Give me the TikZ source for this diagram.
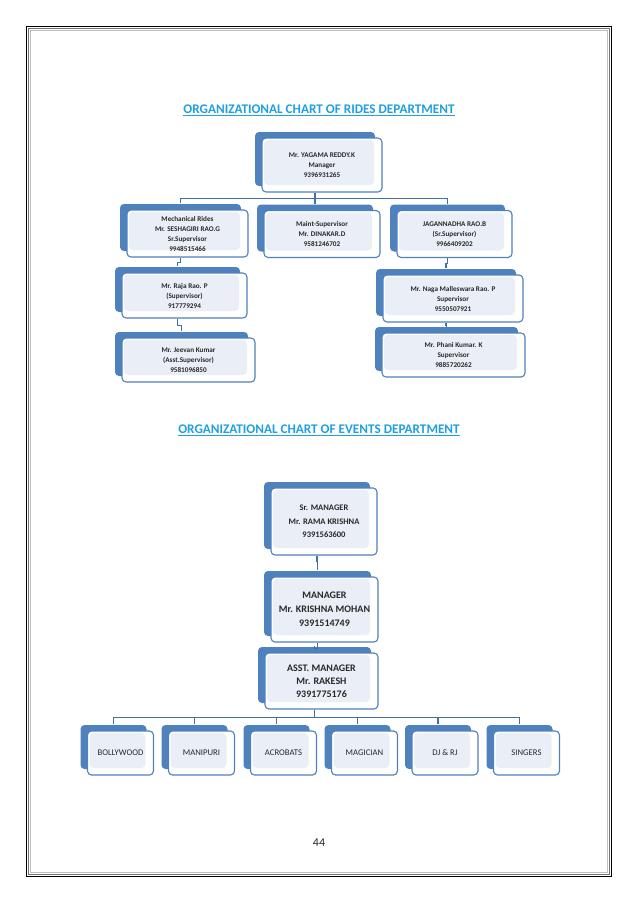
\documentclass[tikz,border=0pt]{standalone}
\usepackage{fontspec}
\setmainfont{Carlito}
\usetikzlibrary{shadows}
\definecolor{chartblue}{RGB}{79,129,189}
\definecolor{linkblue}{RGB}{65,113,160}
\definecolor{panefill}{RGB}{234,239,247}
\definecolor{titleblue}{RGB}{30,160,225}
\definecolor{inktext}{RGB}{40,40,40}

\begin{document}
\begin{tikzpicture}[x=1pt, y=-1pt,
    orgbox/.style={draw=chartblue, fill=white, line width=1.1pt, rounded corners=4pt, inner sep=0pt, align=center, text=inktext,
      font=\bfseries\fontsize{7.2}{10}\selectfont,
      general shadow={shadow xshift=-7pt, shadow yshift=6pt, fill=chartblue},
      path picture={\fill[panefill] ([xshift=2pt,yshift=-2pt]path picture bounding box.north west) rectangle ([xshift=-8pt,yshift=7pt]path picture bounding box.south east);}},
    leafbox/.style={orgbox, font=\fontsize{8.7}{10}\selectfont, minimum width=66pt, minimum height=44pt},
    link/.style={draw=linkblue, line width=1.1pt},
    charttitle/.style={font=\bfseries\fontsize{13.2}{15}\selectfont, text=titleblue}
  ]
  \useasboundingbox[fill=white] (0,0) rectangle (638,903);

  % page border
  \draw[black, line width=1.8pt] (26.5,26.5) rectangle (611.5,876.5);
  \draw[black!55, line width=1.2pt] (28.7,28.7) rectangle (609.3,874.3);
  \draw[black!25, line width=0.8pt] (30.5,30.5) rectangle (607.5,872.5);

  % Rides department
  \node[charttitle] (ridestitle) at (319,110) {\underline{ORGANIZATIONAL CHART OF RIDES DEPARTMENT}};

  \node[orgbox, minimum width=120pt, minimum height=54pt] (ryagama) at (322,165) {Mr. YAGAMA REDDY.K\\Manager\\9396931265};

  \node[orgbox, minimum width=121pt, minimum height=47pt] (rmech) at (187.5,233.5) {Mechanical Rides\\Mr. SESHAGIRI RAO.G\\Sr.Supervisor\\9948515466};
  \node[orgbox, minimum width=116pt, minimum height=47pt] (rmaint) at (322,234) {Maint-Supervisor\\Mr. DINAKAR.D\\9581246702};
  \node[orgbox, minimum width=115pt, minimum height=47pt] (rjagan) at (454.5,234) {JAGANNADHA RAO.B\\(Sr.Supervisor)\\9966409202};

  \node[orgbox, minimum width=125pt, minimum height=45pt] (rraja) at (184.5,295.5) {Mr. Raja Rao. P\\(Supervisor)\\917779294};
  \node[orgbox, minimum width=133pt, minimum height=44pt] (rjeevan) at (188.5,360) {Mr. Jeevan Kumar\\(Asst.Supervisor)\\9581096850};
  \node[orgbox, minimum width=140pt, minimum height=47pt] (rnaga) at (453,298.5) {Mr. Naga Malleswara Rao. P\\Supervisor\\9550507921};
  \node[orgbox, minimum width=143pt, minimum height=44pt] (rphani) at (453.5,355) {Mr. Phani Kumar. K\\Supervisor\\9885720262};

  \foreach \child in {rmech,rmaint,rjagan}
    \draw[link] ([xshift=-7pt]ryagama.south) -- ++(0,6) -| ([xshift=-7pt,yshift=6pt]\child.north);
  \draw[link] ([xshift=-7pt]rmech.south) -- ++(0,5) -| ([xshift=-7pt,yshift=6pt]rraja.north);
  \draw[link] ([xshift=-7pt]rraja.south) -- ++(0,7) -| ([xshift=-7pt,yshift=6pt]rjeevan.north);
  \draw[link] ([xshift=-7pt]rjagan.south) -- ++(0,5) -| ([xshift=-7pt,yshift=6pt]rnaga.north);
  \draw[link] ([xshift=-7pt]rnaga.south) -- ++(0,3) -| ([xshift=-7pt,yshift=6pt]rphani.north);

  % Events department
  \node[charttitle] (eventstitle) at (319,430) {\underline{ORGANIZATIONAL CHART OF EVENTS DEPARTMENT}};

  \node[orgbox, font=\bfseries\fontsize{8.5}{13.5}\selectfont, minimum width=106pt, minimum height=67pt] (esrmgr) at (324,521.5) {Sr. MANAGER\\Mr. RAMA KRISHNA\\9391563600};
  \node[orgbox, font=\bfseries\fontsize{10}{14}\selectfont, minimum width=107pt, minimum height=65pt] (emgr) at (324.5,609.5) {MANAGER\\Mr. KRISHNA MOHAN\\9391514749};
  \node[orgbox, font=\bfseries\fontsize{10}{13}\selectfont, minimum width=113pt, minimum height=56pt] (easst) at (321.5,681) {ASST. MANAGER\\Mr. RAKESH\\9391775176};

  \node[leafbox] (ebolly) at (120.5,753) {BOLLYWOOD};
  \node[leafbox] (emanip) at (201.5,753) {MANIPURI};
  \node[leafbox] (eacro) at (283.5,753) {ACROBATS};
  \node[leafbox] (emagic) at (364.5,753) {MAGICIAN};
  \node[leafbox] (edjrj) at (445,753) {DJ \& RJ};
  \node[leafbox] (esing) at (526.5,753) {SINGERS};

  \draw[link] ([xshift=-7pt]esrmgr.south) -- ++(0,6) -| ([xshift=-7pt,yshift=6pt]emgr.north);
  \draw[link] ([xshift=-7pt]emgr.south) -- ++(0,6) -| ([xshift=-7pt,yshift=6pt]easst.north);
  \foreach \child in {ebolly,emanip,eacro,emagic,edjrj,esing}
    \draw[link] ([xshift=-7pt]easst.south) -- ++(0,8) -| ([xshift=-7pt,yshift=6pt]\child.north);

  % page number
  \node[font=\fontsize{12}{14}\selectfont, text=inktext] (pagenum) at (319,843) {44};
\end{tikzpicture}
\end{document}
